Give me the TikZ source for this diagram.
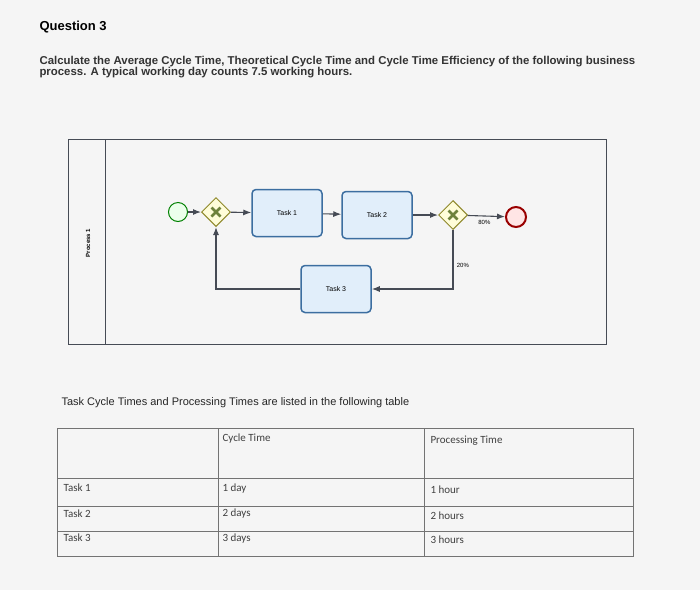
\documentclass[tikz,border=0pt]{standalone}
\usepackage{fontspec}
\setmainfont{Liberation Sans}
\newfontfamily\tabfont{Carlito}
\usetikzlibrary{shapes.geometric,arrows.meta}
\definecolor{taskblue}{RGB}{60,110,160}
\definecolor{taskfill}{RGB}{225,238,250}
\definecolor{flowgray}{RGB}{70,75,85}
\definecolor{crossgreen}{RGB}{110,130,60}
\tikzset{
  task/.style={draw=taskblue, line width=1.5pt, fill=taskfill, rounded corners=4pt, minimum width=70pt, minimum height=47pt, font=\fontsize{7}{8}\selectfont},
  gate/.style={diamond, draw=olive!70!gray, line width=1pt, fill=yellow!15, minimum size=29pt, inner sep=0pt,
    path picture={\draw[crossgreen, line width=2.5pt] ([shift={(-4.5pt,-4.5pt)}]path picture bounding box.center) -- ++(9pt,9pt)
      ([shift={(-4.5pt,4.5pt)}]path picture bounding box.center) -- ++(9pt,-9pt);}},
  flow/.style={draw=flowgray, line width=1.1pt, -{Latex[length=8pt,width=6pt]}},
  cell/.style={anchor=west, font=\tabfont\fontsize{11}{13}\selectfont, text=black!75}
}
\begin{document}
\begin{tikzpicture}[x=1pt,y=-1pt]
  \fill[gray!8] (0,0) rectangle (700,590);
  \useasboundingbox (0,0) rectangle (700,590);

  % question text
  \node[anchor=west, font=\fontsize{13}{15}\selectfont\bfseries] (title) at (36,27) {Question 3};
  \node[anchor=west, font=\fontsize{11.4}{12}\selectfont\bfseries, text=black!80] (line1) at (36,62) {Calculate the Average Cycle Time, Theoretical Cycle Time and Cycle Time Efficiency of the following business};
  \node[anchor=west, font=\fontsize{11.4}{12}\selectfont\bfseries, text=black!80] (line2) at (36,73) {process. A typical working day counts 7.5 working hours.};

  % pool
  \draw[flowgray, line width=1pt] (68,139) rectangle (606,344);
  \draw[flowgray, line width=1pt] (105,139) -- (105,344);
  \node[rotate=90, font=\fontsize{6}{7}\selectfont\bfseries] (lane) at (88,243) {Process 1};

  \node[circle, draw=green!50!black, line width=1pt, fill=green!8, minimum size=19pt, inner sep=0pt] (start) at (178,212) {};
  \node[gate] (g1) at (216,212) {};
  \node[task] (t1) at (287,213) {Task 1};
  \node[task] (t2) at (377,215) {Task 2};
  \node[gate] (g2) at (453,215) {};
  \node[circle, draw=red!60!black, line width=2pt, fill=pink!40, minimum size=20pt, inner sep=0pt] (end) at (516,217) {};
  \node[task] (t3) at (336,289) {Task 3};

  \draw[flow] (start) -- (g1);
  \draw[flow] (g1) -- (t1);
  \draw[flow] (t1) -- (t2);
  \draw[flow] (t2) -- (g2);
  \draw[flow] (g2) -- node[below, font=\fontsize{6}{7}\selectfont, pos=0.45] {80\%} (end);
  \draw[flow] (g2.south) -- node[right, font=\fontsize{6}{7}\selectfont, pos=0.6] {20\%} (g2.south |- t3.east) -- (t3.east);
  \draw[flow] (t3.west) -- (g1.south |- t3.west) -- (g1.south);

  \node[anchor=west, font=\fontsize{11}{12}\selectfont, text=black!85] (caption) at (58,403) {Task Cycle Times and Processing Times are listed in the following table};

  % table
  \draw[black!55] (57,428) rectangle (633,556);
  \foreach \yy in {478,506,531} \draw[black!55] (57,\yy) -- (633,\yy);
  \foreach \xx in {218,424} \draw[black!55] (\xx,428) -- (\xx,556);
  \node[cell] (hc) at (219,439) {Cycle Time};
  \node[cell] (hp) at (427,441) {Processing Time};
  \node[cell] (r1) at (60,488) {Task 1};
  \node[cell] (r2) at (60,514) {Task 2};
  \node[cell] (r3) at (60,538) {Task 3};
  \node[cell] (c1) at (219,489) {1 day};
  \node[cell] (c2) at (219,514) {2 days};
  \node[cell] (c3) at (219,539) {3 days};
  \node[cell] (p1) at (427,490) {1 hour};
  \node[cell] (p2) at (427,516) {2 hours};
  \node[cell] (p3) at (427,540) {3 hours};
\end{tikzpicture}
\end{document}
